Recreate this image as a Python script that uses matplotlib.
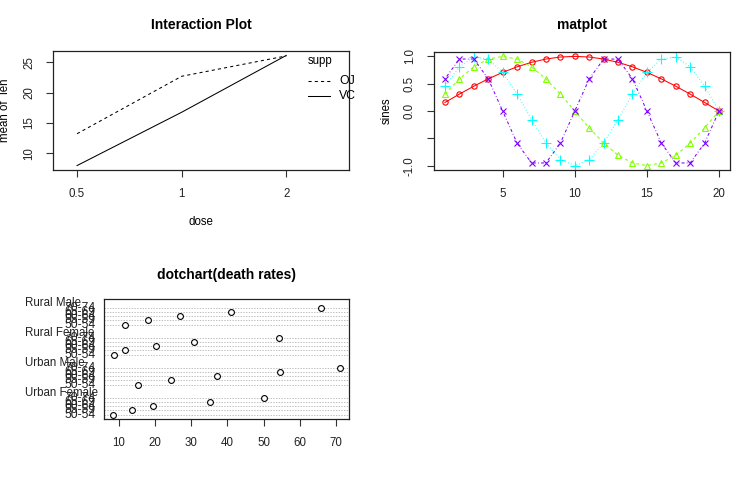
import matplotlib.pyplot as plt
import numpy as np

plt.rcParams['font.family'] = ['Liberation Sans', 'DejaVu Sans']

# interaction plot (ToothGrowth, mean of len)
dose_levels = ['0.5', '1', '2']
oj_means = [13.23, 22.70, 26.06]
vc_means = [7.98, 16.77, 26.14]

# matplot (sines, four columns)
sine_x = list(range(1, 21))
sine_1 = [0.156, 0.309, 0.454, 0.588, 0.707, 0.809, 0.891, 0.951, 0.988, 1.000,
          0.988, 0.951, 0.891, 0.809, 0.707, 0.588, 0.454, 0.309, 0.156, 0.000]
sine_2 = [0.309, 0.588, 0.809, 0.951, 1.000, 0.951, 0.809, 0.588, 0.309, 0.000,
          -0.309, -0.588, -0.809, -0.951, -1.000, -0.951, -0.809, -0.588, -0.309, 0.000]
sine_3 = [0.454, 0.809, 0.988, 0.951, 0.707, 0.309, -0.156, -0.588, -0.891, -1.000,
          -0.891, -0.588, -0.156, 0.309, 0.707, 0.951, 0.988, 0.809, 0.454, 0.000]
sine_4 = [0.588, 0.951, 0.951, 0.588, 0.000, -0.588, -0.951, -0.951, -0.588, 0.000,
          0.588, 0.951, 0.951, 0.588, 0.000, -0.588, -0.951, -0.951, -0.588, 0.000]

# dotchart (VADeaths)
age_groups = ['50-54', '55-59', '60-64', '65-69', '70-74']
group_names = ['Rural Male', 'Rural Female', 'Urban Male', 'Urban Female']
rural_male = [11.7, 18.1, 26.9, 41.0, 66.0]
rural_female = [8.7, 11.7, 20.3, 30.9, 54.3]
urban_male = [15.4, 24.3, 37.0, 54.6, 71.1]
urban_female = [8.4, 13.6, 19.3, 35.1, 50.0]

W, H = 743, 480
fig = plt.figure(figsize=(W / 100, H / 100), dpi=100)


def px_axes(l, t, r, b):
    return fig.add_axes([l / W, 1 - b / H, (r - l) / W, (b - t) / H])


def r_style(ax):
    for s in ax.spines.values():
        s.set_linewidth(0.9)
        s.set_color('#222222')
    ax.tick_params(direction='out', length=5, width=0.8, color='#333333',
                   labelsize=8.3, pad=8, labelcolor='#222222')


def rotate_y(ax):
    for lab in ax.get_yticklabels():
        lab.set_rotation(90)
        lab.set_va('center')


LW = 0.75

# ---- panel 1: interaction plot
ax1 = px_axes(53, 51, 349, 170)
r_style(ax1)
xpos = np.arange(1, len(dose_levels) + 1)
ax1.plot(xpos, oj_means, color='black', lw=LW, dashes=(3, 3))
ax1.plot(xpos, vc_means, color='black', lw=LW)
ax1.set_xlim(0.77, 3.6)
ax1.set_ylim(7.25, 26.87)
ax1.set_xticks(xpos)
ax1.set_xticklabels(dose_levels)
ax1.set_yticks([10, 15, 20, 25])
rotate_y(ax1)
ax1.set_title('Interaction Plot', fontsize=10, fontweight='bold', pad=16)
ax1.set_xlabel('dose', fontsize=8.3)
ax1.xaxis.set_label_coords(0.5, -0.39)
ax1.set_ylabel('mean of  len', fontsize=8.3)
ax1.yaxis.set_label_coords(-0.143, 0.5)
# legend
ax1.text(0.861, 0.916, 'supp', transform=ax1.transAxes, fontsize=8.3,
         ha='left', va='center')
ax1.plot([0.861, 0.936], [0.748, 0.748], transform=ax1.transAxes,
         color='black', lw=LW, dashes=(3, 3))
ax1.plot([0.861, 0.936], [0.622, 0.622], transform=ax1.transAxes,
         color='black', lw=LW)
ax1.text(0.966, 0.748, 'OJ', transform=ax1.transAxes, fontsize=8.8,
         ha='left', va='center')
ax1.text(0.966, 0.622, 'VC', transform=ax1.transAxes, fontsize=8.8,
         ha='left', va='center')

# ---- panel 2: matplot
ax2 = px_axes(434, 52, 730, 170)
r_style(ax2)
u = 0.72
sines = [sine_1, sine_2, sine_3, sine_4]
colors = ['#FF0000', '#80FF00', '#00FFFF', '#8000FF']
markers = ['o', '^', '+', 'x']
msizes = [3.8, 4.8, 6.5, 5]
dash_list = [None, (4 * u, 4 * u), (1 * u, 3 * u), (1 * u, 3 * u, 4 * u, 3 * u)]
for vals, c, m, ms, d in zip(sines, colors, markers, msizes, dash_list):
    kw = {} if d is None else {'dashes': d}
    ax2.plot(sine_x, vals, color=c, lw=LW, marker=m, ms=ms, mfc='none',
             mec=c, mew=0.8, **kw)
ax2.set_xlim(0.24, 20.76)
ax2.set_ylim(-1.08, 1.08)
ax2.set_xticks([5, 10, 15, 20])
ax2.set_yticks([-1, -0.5, 0, 0.5, 1])
ax2.set_yticklabels(['-1.0', '', '0.0', '0.5', '1.0'])
rotate_y(ax2)
ax2.set_title('matplot', fontsize=10, fontweight='bold', pad=16.5)
ax2.set_ylabel('sines', fontsize=8.3)
ax2.yaxis.set_label_coords(-0.14, 0.5)

# ---- panel 3: dotchart
ax3 = px_axes(104, 299, 349, 419)
r_style(ax3)
groups = [rural_male, rural_female, urban_male, urban_female]
n_groups = len(groups)
for gi, (gname, vals) in enumerate(zip(group_names, groups)):
    base = (n_groups - 1 - gi) * (len(age_groups) + 2)
    ys = [base + 1 + i for i in range(len(vals))]
    for y in ys:
        ax3.axhline(y, color='#BDBDBD', lw=0.7, dashes=(1.4, 1.4), zorder=1)
    ax3.plot(vals, ys, ls='none', marker='o', ms=4.2, mfc='white',
             mec='black', mew=0.8, zorder=3)
    for y, lab in zip(ys, age_groups):
        ax3.text(-0.035, y, lab, transform=ax3.get_yaxis_transform(),
                 fontsize=8.8, ha='right', va='center', color='#222222')
    ax3.text(-0.322, base + len(vals) + 1, gname,
             transform=ax3.get_yaxis_transform(), fontsize=8.3,
             ha='left', va='center', color='#222222')
ax3.set_xlim(5.89, 73.61)
ax3.set_ylim(0, n_groups * (len(age_groups) + 2))
ax3.set_xticks([10, 20, 30, 40, 50, 60, 70])
ax3.set_yticks([])
ax3.set_title('dotchart(death rates)', fontsize=10, fontweight='bold', pad=14.5)

fig.savefig('out.png', dpi=100)
